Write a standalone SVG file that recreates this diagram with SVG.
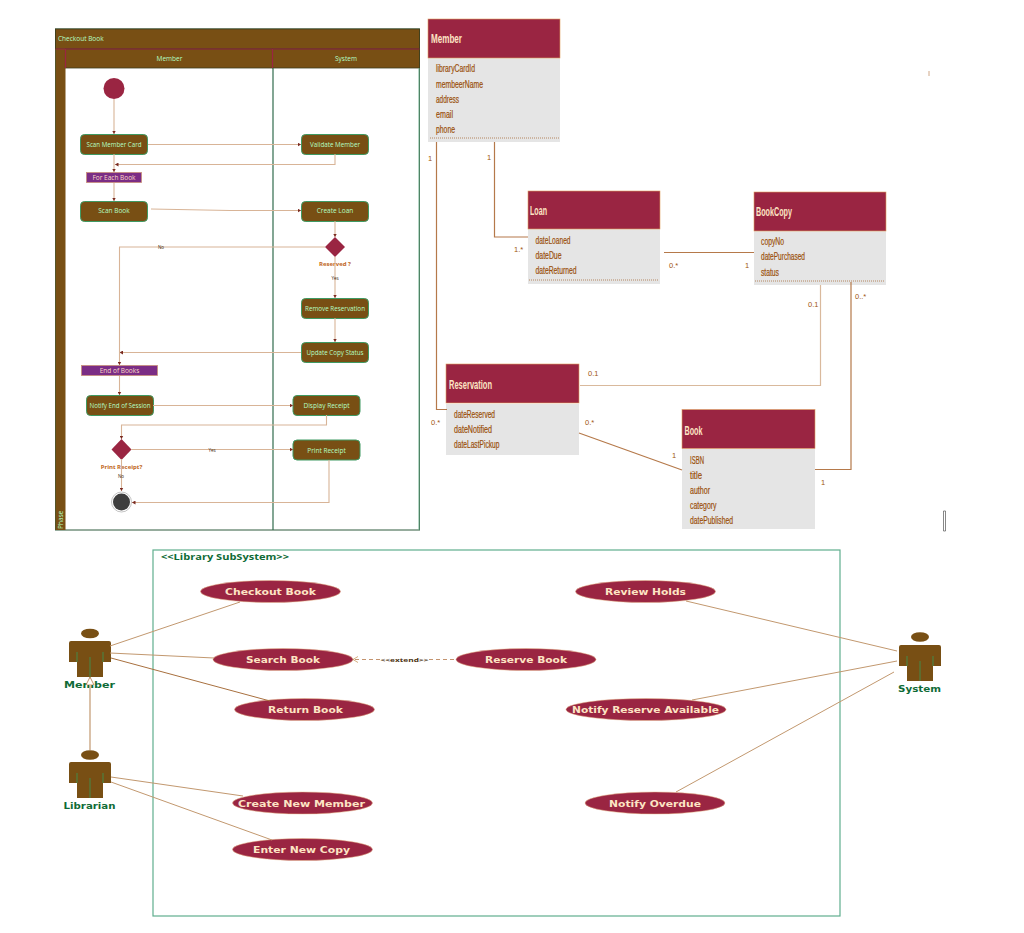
<svg xmlns="http://www.w3.org/2000/svg" width="1024" height="933" viewBox="0 0 1024 933">
<style>
text{font-family:"Open Sans","Liberation Sans",sans-serif}
.ln{fill:none;stroke:#d8b497;stroke-width:1.1}
.cl{fill:none;stroke:#b5794a;stroke-width:1.2}
.sw{fill:none;stroke:#2f6b4c;stroke-width:1.2}
.act{fill:#784f14;stroke:#3f9a63;stroke-width:1}
.at{font-size:6.500px;fill:#b4ffc4;text-anchor:middle}
.hd{fill:#784f14;stroke:#3c3c1c;stroke-width:.8}
.bar{fill:#7b2d85;stroke:#c98f7a;stroke-width:.8}
.bt{font-size:6.500px;fill:#fbd9c6;text-anchor:middle}
.lb{font-size:4.500px;fill:#3a2408;text-anchor:middle}
.q{font-size:6px;font-weight:700;fill:#c0651a;text-anchor:middle}
.ch{fill:#9a2542;stroke:#e0a060;stroke-width:.6}
.cb{fill:#e5e5e5}
.cn{font-family:"Liberation Sans",sans-serif;font-size:13px;fill:#fde4c4;font-weight:700}
.ca{font-family:"Liberation Sans",sans-serif;font-size:10px;fill:#9a4f0a;stroke:#9a4f0a;stroke-width:.2}
.dash{stroke:#a8703f;stroke-width:.8;stroke-dasharray:1 1;fill:none}
.m{font-family:"Liberation Sans",sans-serif;font-size:7.500px;fill:#a0560f}
.uc{fill:#9a2542;stroke:#e9b98a;stroke-width:.5}
.ut{font-family:"DejaVu Sans",sans-serif;font-size:9.500px;font-weight:700;fill:#fde4c4;text-anchor:middle}
.an{font-family:"DejaVu Sans",sans-serif;font-size:9.500px;font-weight:700;fill:#0f6b36;text-anchor:middle}
.ul{fill:none;stroke:#c2986f;stroke-width:1}
.actor{fill:#784f14}
.leg{stroke:#2fa35f;stroke-width:.7;fill:none}
</style>
<defs>
<marker id="a" markerUnits="userSpaceOnUse" markerWidth="4" markerHeight="4" refX="3.500" refY="2" orient="auto"><path d="M0 0L3.500 2L0 4z" fill="#7a2a20"/></marker>
<marker id="g" markerUnits="userSpaceOnUse" markerWidth="10" markerHeight="10" refX="8" refY="4" orient="auto"><path d="M0 0L8 4L0 8z" fill="#fff" stroke="#b5794a" stroke-width=".8"/></marker>
<marker id="o" markerUnits="userSpaceOnUse" markerWidth="7" markerHeight="7" refX="5" refY="3" orient="auto"><path d="M0 0L5 3L0 6" fill="none" stroke="#c89a60" stroke-width=".8"/></marker>
</defs>

<g id="swimlane">
<rect x="55.500" y="29" width="364" height="501" fill="#fff" stroke="#2f5b3c" stroke-width="1"/>
<rect x="55.500" y="29" width="364" height="20" class="hd"/>
<rect x="55.500" y="49" width="10" height="481" fill="#784f14"/>
<rect x="65.500" y="49" width="207" height="19" class="hd"/>
<rect x="272.500" y="49" width="147" height="19" class="hd"/>
<path d="M55.500 49H419.500M65.500 49V68M272.500 49V68" stroke="#9a2542" stroke-width="1.200" fill="none"/>
<path d="M273 68V530" class="sw"/>
<path d="M419 68V530" stroke="#6fae8e" stroke-width="1" fill="none"/>
<text x="58" y="41" font-size="6.500" fill="#b4ffc4">Checkout Book</text>
<text x="169.500" y="61" class="at">Member</text>
<text x="346" y="61" class="at">System</text>
<text transform="translate(63,529) rotate(-90)" font-size="6.500" fill="#b4ffc4">Phase</text>
</g>

<g id="start"><circle cx="114" cy="88.500" r="10.500" fill="#9a2542"/></g>
<g id="scan-member-card"><rect x="80.500" y="134.500" width="67" height="20" rx="4" class="act"/><text x="114" y="147" class="at" textLength="55" lengthAdjust="spacingAndGlyphs">Scan Member Card</text></g>
<g id="validate-member"><rect x="301.500" y="134.500" width="67" height="20" rx="4" class="act"/><text x="335" y="147" class="at" textLength="50" lengthAdjust="spacingAndGlyphs">Validate Member</text></g>
<g id="for-each-book"><rect x="86.500" y="172.500" width="55" height="10" class="bar"/><text x="114" y="180" class="bt">For Each Book</text></g>
<g id="scan-book"><rect x="80.500" y="201.500" width="67" height="20" rx="4" class="act"/><text x="114" y="213" class="at">Scan Book</text></g>
<g id="create-loan"><rect x="301.500" y="201.500" width="67" height="20" rx="4" class="act"/><text x="335" y="213" class="at">Create Loan</text></g>
<g id="reserved"><path d="M335 237L345 247L335 257L325 247z" fill="#9a2542"/><text x="335" y="265.500" class="q">Reserved ?</text></g>
<g id="remove-reservation"><rect x="301.500" y="298.500" width="67" height="20" rx="4" class="act"/><text x="335" y="311" class="at" textLength="60" lengthAdjust="spacingAndGlyphs">Remove Reservation</text></g>
<g id="update-copy-status"><rect x="301.500" y="342.500" width="67" height="20" rx="4" class="act"/><text x="335" y="355" class="at" textLength="57" lengthAdjust="spacingAndGlyphs">Update Copy Status</text></g>
<g id="end-of-books"><rect x="81.500" y="365.500" width="76" height="10" class="bar"/><text x="119.500" y="373" class="bt">End of Books</text></g>
<g id="notify-end"><rect x="86.500" y="395.500" width="67" height="20" rx="4" class="act"/><text x="120" y="408" class="at" textLength="61" lengthAdjust="spacingAndGlyphs">Notify End of Session</text></g>
<g id="display-receipt"><rect x="293" y="395.500" width="67" height="20" rx="4" class="act"/><text x="326.500" y="408" class="at">Display Receipt</text></g>
<g id="print-q"><path d="M121.500 439L131.500 449.500L121.500 460L111.500 449.500z" fill="#9a2542"/><text x="121.500" y="469" class="q">Print Receipt?</text></g>
<g id="print-receipt"><rect x="293" y="440" width="67" height="20" rx="4" class="act"/><text x="326.500" y="452.500" class="at">Print Receipt</text></g>
<g id="end"><circle cx="121.500" cy="502" r="10" fill="#fff" stroke="#aaa" stroke-width=".7"/><circle cx="121.500" cy="502" r="8.500" fill="#3e3e3e"/></g>

<g id="class-member"><rect x="428" y="58" width="132" height="84" class="cb"/><rect x="428" y="19" width="132" height="39" class="ch"/><text x="431" y="43" class="cn" textLength="31" lengthAdjust="spacingAndGlyphs">Member</text>
<text x="436" y="72" class="ca" textLength="39" lengthAdjust="spacingAndGlyphs">libraryCardId</text><text x="436" y="87.500" class="ca" textLength="47" lengthAdjust="spacingAndGlyphs">membeerName</text><text x="436" y="102.500" class="ca" textLength="23" lengthAdjust="spacingAndGlyphs">address</text><text x="436" y="117.500" class="ca" textLength="17" lengthAdjust="spacingAndGlyphs">email</text><text x="436" y="132.500" class="ca" textLength="19" lengthAdjust="spacingAndGlyphs">phone</text><path d="M430 138H559" class="dash"/></g>
<g id="class-loan"><rect x="528" y="229" width="132" height="55" class="cb"/><rect x="528" y="191" width="132" height="38" class="ch"/><text x="530" y="215" class="cn" textLength="17" lengthAdjust="spacingAndGlyphs">Loan</text>
<text x="535.500" y="244" class="ca" textLength="35" lengthAdjust="spacingAndGlyphs">dateLoaned</text><text x="535.500" y="259" class="ca" textLength="26" lengthAdjust="spacingAndGlyphs">dateDue</text><text x="535.500" y="274" class="ca" textLength="41" lengthAdjust="spacingAndGlyphs">dateReturned</text><path d="M529 280H659" class="dash"/></g>
<g id="class-bookcopy"><rect x="754" y="231" width="132" height="54" class="cb"/><rect x="754" y="192" width="132" height="39" class="ch"/><text x="756" y="216" class="cn" textLength="36" lengthAdjust="spacingAndGlyphs">BookCopy</text>
<text x="761" y="245" class="ca" textLength="23" lengthAdjust="spacingAndGlyphs">copyNo</text><text x="761" y="260" class="ca" textLength="44" lengthAdjust="spacingAndGlyphs">datePurchased</text><text x="761" y="275.500" class="ca" textLength="18" lengthAdjust="spacingAndGlyphs">status</text><path d="M755 281H885" class="dash"/></g>
<g id="class-reservation"><rect x="446" y="404" width="133" height="51" class="cb"/><rect x="446" y="364" width="133" height="39" class="ch"/><text x="449" y="389" class="cn" textLength="43" lengthAdjust="spacingAndGlyphs">Reservation</text>
<text x="454" y="418" class="ca" textLength="41" lengthAdjust="spacingAndGlyphs">dateReserved</text><text x="454" y="433" class="ca" textLength="38" lengthAdjust="spacingAndGlyphs">dateNotified</text><text x="454" y="448" class="ca" textLength="45.500" lengthAdjust="spacingAndGlyphs">dateLastPickup</text></g>
<g id="class-book"><rect x="682" y="449" width="133" height="80" class="cb"/><rect x="682" y="409.500" width="133" height="39" class="ch"/><text x="684.500" y="435" class="cn" textLength="18" lengthAdjust="spacingAndGlyphs">Book</text>
<text x="690" y="463.500" class="ca" textLength="14" lengthAdjust="spacingAndGlyphs">ISBN</text><text x="690" y="478.500" class="ca" textLength="12" lengthAdjust="spacingAndGlyphs">title</text><text x="690" y="493.500" class="ca" textLength="20" lengthAdjust="spacingAndGlyphs">author</text><text x="690" y="509" class="ca" textLength="26.500" lengthAdjust="spacingAndGlyphs">category</text><text x="690" y="523.500" class="ca" textLength="43" lengthAdjust="spacingAndGlyphs">datePublished</text></g>

<g id="multiplicities">
<text x="428" y="161" class="m">1</text><text x="487" y="160" class="m">1</text><text x="514" y="252" class="m">1.*</text><text x="669" y="268" class="m">0.*</text><text x="745" y="268" class="m">1</text>
<text x="808" y="307" class="m">0.1</text><text x="855" y="299" class="m">0..*</text><text x="588" y="376" class="m">0.1</text><text x="431" y="425" class="m">0.*</text><text x="585" y="425" class="m">0.*</text><text x="672" y="458" class="m">1</text><text x="821" y="485" class="m">1</text>
</g>

<g id="subsystem"><rect x="153" y="550" width="687" height="366" fill="none" stroke="#5fae8e" stroke-width="1.200"/>
<text x="161" y="560" font-family="DejaVu Sans" font-size="8" font-weight="700" fill="#0f6b36" textLength="128" lengthAdjust="spacingAndGlyphs">&lt;&lt;Library SubSystem&gt;&gt;</text></g>

<g id="uc-checkout"><ellipse cx="270.500" cy="591.500" rx="70" ry="11" class="uc"/><text x="270.500" y="595" class="ut" textLength="91" lengthAdjust="spacingAndGlyphs">Checkout Book</text></g>
<g id="uc-search"><ellipse cx="283" cy="659.500" rx="70" ry="11" class="uc"/><text x="283" y="663" class="ut" textLength="74" lengthAdjust="spacingAndGlyphs">Search Book</text></g>
<g id="uc-return"><ellipse cx="304.500" cy="709.500" rx="70" ry="11" class="uc"/><text x="305.500" y="713" class="ut" textLength="75" lengthAdjust="spacingAndGlyphs">Return Book</text></g>
<g id="uc-create"><ellipse cx="302.500" cy="803" rx="70" ry="11" class="uc"/><text x="301.500" y="806.500" class="ut" textLength="127" lengthAdjust="spacingAndGlyphs">Create New Member</text></g>
<g id="uc-enter"><ellipse cx="302.500" cy="849.500" rx="70" ry="11" class="uc"/><text x="301.500" y="853" class="ut" textLength="97" lengthAdjust="spacingAndGlyphs">Enter New Copy</text></g>
<g id="uc-review"><ellipse cx="645.500" cy="591.500" rx="70" ry="11" class="uc"/><text x="645.500" y="595" class="ut" textLength="81" lengthAdjust="spacingAndGlyphs">Review Holds</text></g>
<g id="uc-reserve"><ellipse cx="526" cy="659.500" rx="70" ry="11" class="uc"/><text x="526" y="663" class="ut" textLength="82" lengthAdjust="spacingAndGlyphs">Reserve Book</text></g>
<g id="uc-notify-reserve"><ellipse cx="646" cy="709.500" rx="80" ry="11" class="uc"/><text x="645.500" y="713" class="ut" textLength="147" lengthAdjust="spacingAndGlyphs">Notify Reserve Available</text></g>
<g id="uc-overdue"><ellipse cx="655" cy="803" rx="70" ry="11" class="uc"/><text x="655" y="806.500" class="ut" textLength="92" lengthAdjust="spacingAndGlyphs">Notify Overdue</text></g>

<g id="actor-member"><ellipse cx="90" cy="633.500" rx="9" ry="4.800" class="actor"/><path d="M71 641H109Q111 641 111 643V662H103V677H77V662H69V643Q69 641 71 641z" class="actor"/><path d="M77 652V662M103 652V662M90 657V677" class="leg"/><text x="89.500" y="688" class="an" textLength="51" lengthAdjust="spacingAndGlyphs">Member</text></g>
<g id="actor-librarian"><ellipse cx="90" cy="755" rx="9" ry="4.800" class="actor"/><path d="M71 762H109Q111 762 111 764V783H103V798H77V783H69V764Q69 762 71 762z" class="actor"/><path d="M77 773V783M103 773V783M90 778V798" class="leg"/><text x="89.500" y="809" class="an" textLength="52" lengthAdjust="spacingAndGlyphs">Librarian</text></g>
<g id="actor-system"><ellipse cx="920" cy="637" rx="9" ry="4.800" class="actor"/><path d="M901 645H939Q941 645 941 647V666H933V681H907V666H899V647Q899 645 901 645z" class="actor"/><path d="M907 656V666M933 656V666M920 661V681" class="leg"/><text x="919.500" y="692" class="an" textLength="43" lengthAdjust="spacingAndGlyphs">System</text></g>

<g id="connectors">
<g class="ln">
<path d="M114 99V134" marker-end="url(#a)"/>
<path d="M148 144.500H301" marker-end="url(#a)"/>
<path d="M335 154V164.500H115" marker-end="url(#a)"/>
<path d="M114 154V172" marker-end="url(#a)"/>
<path d="M114 183V201" marker-end="url(#a)"/>
<path d="M151 209L230 210.500H301" marker-end="url(#a)"/>
<path d="M335 221V237" marker-end="url(#a)"/>
<path d="M325 247H119.500V352"/>
<path d="M335 257V298" marker-end="url(#a)"/>
<path d="M335 318V342" marker-end="url(#a)"/>
<path d="M301 352.500H119.500" marker-end="url(#a)"/>
<path d="M119.500 352V365" marker-end="url(#a)"/>
<path d="M119.500 376V395" marker-end="url(#a)"/>
<path d="M153 405.500H293" marker-end="url(#a)"/>
<path d="M326.500 415V425H121.500V439" marker-end="url(#a)"/>
<path d="M131 449.500H293" marker-end="url(#a)"/>
<path d="M121.500 459V491" marker-end="url(#a)"/>
<path d="M329 460V502.500H132" marker-end="url(#a)"/>
</g>
<text x="161" y="248.500" class="lb">No</text>
<text x="335" y="279.500" class="lb">Yes</text>
<text x="212" y="451.500" class="lb">Yes</text>
<text x="121" y="477.500" class="lb">No</text>
<g class="cl">
<path d="M436.500 142V409.500H447"/>
<path d="M494.500 142V237H528"/>
<path d="M664 252.500H754"/>
<path d="M820.500 285V385.500H580" stroke="#d9b99c"/>
<path d="M851 282V469.500H815"/>
<path d="M579 433L682 470"/>
</g>
<g class="ul">
<path d="M110 646L240 602"/>
<path d="M110 653L214 658"/>
<path d="M111 658L270 701" stroke="#a8703f"/>
<path d="M90 750V677" stroke-width="1.200" marker-end="url(#g)"/>
<path d="M111 777L243 796"/>
<path d="M111 782L272 840"/>
<path d="M686 601L897 651"/>
<path d="M692 700L897 661"/>
<path d="M676 792L894 672"/>
</g>
<path d="M380 659.500H353" fill="none" stroke="#b5794a" stroke-width=".8" stroke-dasharray="4 3" marker-end="url(#o)"/>
<path d="M429 659.500H456" fill="none" stroke="#b5794a" stroke-width=".8" stroke-dasharray="4 3"/>
<text x="404.500" y="662" font-family="DejaVu Sans" font-size="5.500" font-weight="700" fill="#4a3010" text-anchor="middle" textLength="48" lengthAdjust="spacingAndGlyphs">&lt;&lt;extend&gt;&gt;</text>
</g>

<path d="M929 71V76" stroke="#d0a888" stroke-width="1"/>
<path d="M945.500 511H943.500V531H945.500V511" fill="none" stroke="#555" stroke-width=".7"/>
</svg>
